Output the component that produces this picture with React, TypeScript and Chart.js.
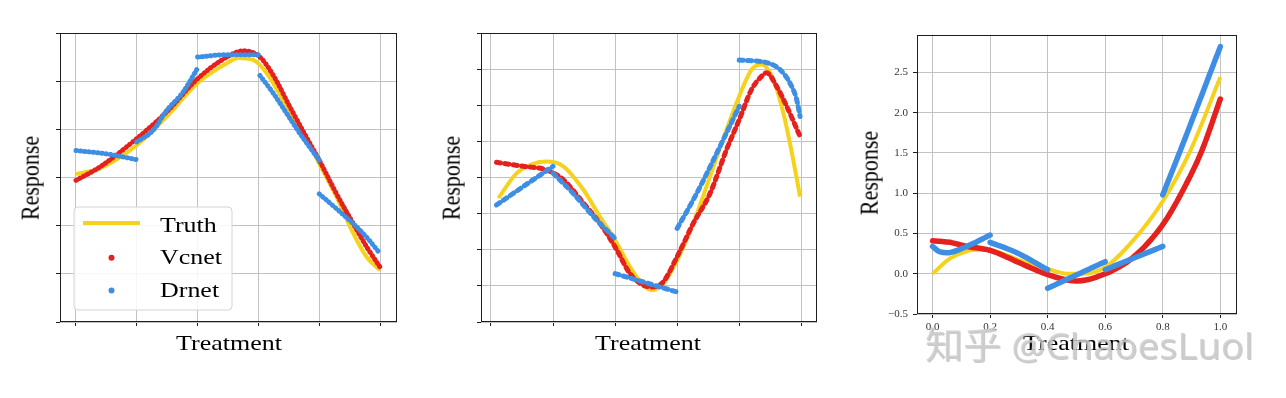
import React, { useEffect, useRef } from "react";
import { Chart, registerables } from "chart.js";
Chart.register(...registerables);

// ---------------- Panel 1 data ----------------
const p1TruthX = [0, 0.079, 0.2, 0.298, 0.4, 0.496, 0.534, 0.583, 0.627, 0.693, 0.748, 0.8, 0.857, 0.912, 0.956, 1.0];
const p1TruthY = [3.07, 3.19, 3.67, 4.26, 4.96, 5.37, 5.48, 5.44, 5.17, 4.47, 3.92, 3.29, 2.6, 1.84, 1.35, 1.07];
const p1VcnetX = [0, 0.079, 0.2, 0.298, 0.4, 0.496, 0.55, 0.605, 0.649, 0.704, 0.77, 0.8, 0.857, 0.912, 0.956, 1.0];
const p1VcnetY = [2.94, 3.22, 3.81, 4.36, 5.05, 5.5, 5.63, 5.5, 5.12, 4.46, 3.7, 3.36, 2.66, 2.04, 1.56, 1.14];
const p1DrnetX = [0, 0.1, 0.2, 0.2, 0.2, 0.254, 0.298, 0.353, 0.4, 0.4, 0.4, 0.496, 0.605, 0.605, 0.605, 0.65, 0.693, 0.737, 0.8, 0.8, 0.8, 0.857, 0.912, 0.956, 1.0];
const p1DrnetY = [3.56, 3.49, 3.37, null, 3.74, 3.98, 4.39, 4.78, 5.27, null, 5.5, 5.55, 5.55, null, 5.12, 4.74, 4.33, 3.91, 3.36, null, 2.66, 2.35, 2.04, 1.76, 1.42];
const p1XTicks = [0, 0.2, 0.4, 0.6, 0.8, 1.0];
const p1YTicks = [0, 1, 2, 3, 4, 5, 6];

// ---------------- Panel 2 data ----------------
const p2TruthX = [0.024, 0.083, 0.136, 0.179, 0.233, 0.298, 0.351, 0.4, 0.448, 0.491, 0.518, 0.555, 0.6, 0.652, 0.706, 0.759, 0.8, 0.84, 0.872, 0.91, 0.942, 0.974, 0.996];
const p2TruthY = [3.43, 4.12, 4.38, 4.44, 4.31, 3.66, 2.92, 2.27, 1.53, 1.02, 0.88, 1.06, 1.71, 2.73, 4.03, 5.32, 6.25, 6.99, 7.13, 6.71, 5.79, 4.49, 3.47];
const p2VcnetX = [0.018, 0.104, 0.179, 0.233, 0.298, 0.351, 0.4, 0.448, 0.491, 0.523, 0.555, 0.6, 0.652, 0.706, 0.759, 0.8, 0.84, 0.878, 0.888, 0.92, 0.953, 0.996];
const p2VcnetY = [4.42, 4.31, 4.21, 3.94, 3.29, 2.73, 2.08, 1.34, 1.02, 0.97, 1.11, 1.81, 2.73, 3.56, 4.77, 5.6, 6.44, 6.85, 6.9, 6.53, 5.97, 5.14];
const p2DrnetX = [0.018, 0.104, 0.2, 0.2, 0.2, 0.265, 0.33, 0.4, 0.4, 0.4, 0.6, 0.6, 0.6, 0.663, 0.738, 0.8, 0.8, 0.8, 0.888, 0.931, 0.963, 0.985, 0.996];
const p2DrnetY = [3.24, 3.75, 4.31, null, 4.12, 3.56, 2.92, 2.31, null, 1.34, 0.83, null, 2.59, 3.56, 4.86, 5.97, null, 7.25, 7.18, 6.99, 6.62, 6.16, 5.69];
const p2XTicks = [0, 0.2, 0.4, 0.6, 0.8, 1.0];
const p2YTicks = [0, 1, 2, 3, 4, 5, 6, 7, 8];

// ---------------- Panel 3 data ----------------
const p3TruthX = [0, 0.061, 0.119, 0.177, 0.235, 0.316, 0.4, 0.467, 0.525, 0.6, 0.699, 0.8, 0.896, 1.0];
const p3TruthY = [0, 0.19, 0.28, 0.3, 0.26, 0.15, 0.06, 0.0, 0.0, 0.08, 0.42, 0.9, 1.53, 2.44];
const p3VcnetX = [0, 0.061, 0.119, 0.2, 0.293, 0.4, 0.5, 0.6, 0.699, 0.8, 0.872, 0.936, 1.0];
const p3VcnetY = [0.41, 0.39, 0.34, 0.29, 0.15, -0.01, -0.09, 0.0, 0.21, 0.61, 1.05, 1.53, 2.17];
const p3DrnetX = [0, 0.021, 0.05, 0.119, 0.2, 0.2, 0.2, 0.293, 0.4, 0.4, 0.4, 0.6, 0.6, 0.6, 0.8, 0.8, 0.8, 0.861, 1.0];
const p3DrnetY = [0.34, 0.28, 0.26, 0.34, 0.48, null, 0.39, 0.26, 0.05, null, -0.18, 0.15, null, 0.05, 0.34, null, 0.98, 1.53, 2.82];
const p3XTicks = [0, 0.2, 0.4, 0.6, 0.8, 1.0];
const p3YTicks = [-0.5, 0, 0.5, 1.0, 1.5, 2.0, 2.5];

const legendLabels = ["Truth", "Vcnet", "Drnet"];

// ---------------- styles ----------------
const YELLOW = "#f6d21a";
const RED = "#e4211c";
const BLUE = "#3e8fe3";
const GRID = "#c2c2c2";
const SPINE = "#1e1e1e";
const SERIF = "'Liberation Serif', 'DejaVu Serif', serif";
const STRETCH = 1.18;

const PADL = 40, PADT = 10, PADR = 15, PADB = 25;

type Spec = {
  area: { l: number; t: number; r: number; b: number };
  xMin: number; xMax: number; yMin: number; yMax: number;
  xTicks: number[]; yTicks: number[];
  showLabels: boolean;
  truth: [number[], number[]];
  vcnet: [number[], number[]];
  drnet: [number[], (number | null)[]];
  dash: number[];
  dotW: number;
  legend?: boolean;
};

const pts = (xs: number[], ys: (number | null)[]) => xs.map((x, i) => ({ x, y: ys[i] }));

const framePlugin = {
  id: "frame",
  afterDatasetsDraw(chart: any) {
    const { ctx, chartArea: a } = chart;
    ctx.save();
    ctx.strokeStyle = SPINE;
    ctx.lineWidth = 1;
    ctx.strokeRect(Math.round(a.left) + 0.5, Math.round(a.top) + 0.5, Math.round(a.right - a.left) - 1, Math.round(a.bottom - a.top) - 1);
    ctx.restore();
  },
};

const legendPlugin = {
  id: "innerLegend",
  afterDatasetsDraw(chart: any, _args: any, opts: any) {
    if (!opts || !opts.show) return;
    const { ctx, chartArea: a } = chart;
    const L = a.left, T = a.top;
    ctx.save();
    const bx = L + 14, by = T + 174, bw = 158, bh = 103, r = 4;
    ctx.beginPath();
    ctx.moveTo(bx + r, by);
    ctx.lineTo(bx + bw - r, by);
    ctx.quadraticCurveTo(bx + bw, by, bx + bw, by + r);
    ctx.lineTo(bx + bw, by + bh - r);
    ctx.quadraticCurveTo(bx + bw, by + bh, bx + bw - r, by + bh);
    ctx.lineTo(bx + r, by + bh);
    ctx.quadraticCurveTo(bx, by + bh, bx, by + bh - r);
    ctx.lineTo(bx, by + r);
    ctx.quadraticCurveTo(bx, by, bx + r, by);
    ctx.closePath();
    ctx.fillStyle = "rgba(255,255,255,0.85)";
    ctx.fill();
    ctx.strokeStyle = "#d4d4d4";
    ctx.lineWidth = 1;
    ctx.stroke();
    ctx.strokeStyle = YELLOW;
    ctx.lineWidth = 4;
    ctx.lineCap = "butt";
    ctx.beginPath();
    ctx.moveTo(L + 23, T + 190);
    ctx.lineTo(L + 80, T + 190);
    ctx.stroke();
    ctx.fillStyle = RED;
    ctx.beginPath();
    ctx.arc(L + 51.5, T + 224.7, 3, 0, Math.PI * 2);
    ctx.fill();
    ctx.fillStyle = BLUE;
    ctx.beginPath();
    ctx.arc(L + 51.5, T + 257.5, 3, 0, Math.PI * 2);
    ctx.fill();
    ctx.fillStyle = "#000";
    ctx.font = `22px ${SERIF}`;
    ctx.textBaseline = "alphabetic";
    ctx.textAlign = "left";
    const ys = [198.5, 231, 263.5];
    legendLabels.forEach((t, i) => {
      ctx.save();
      ctx.translate(L + 100, T + ys[i]);
      ctx.scale(STRETCH, 1);
      ctx.fillText(t, 0, 0);
      ctx.restore();
    });
    ctx.restore();
  },
};

const fmt = (v: number) => v.toFixed(1).replace("-", "\u2212");

function Panel({ spec }: { spec: Spec }) {
  const ref = useRef<HTMLCanvasElement | null>(null);
  const aw = spec.area.r - spec.area.l;
  const ah = spec.area.b - spec.area.t;
  const w = aw + PADL + PADR;
  const h = ah + PADT + PADB;
  useEffect(() => {
    if (!ref.current) return;
    const lineBase = {
      pointRadius: 0,
      pointHoverRadius: 0,
      cubicInterpolationMode: "monotone" as const,
      spanGaps: false,
      fill: false,
    };
    const chart = new Chart(ref.current, {
      type: "line",
      data: {
        datasets: [
          {
            ...lineBase,
            label: "Drnet",
            data: pts(spec.drnet[0], spec.drnet[1]) as any,
            borderColor: BLUE,
            borderWidth: spec.dotW,
            borderDash: spec.dash,
            borderCapStyle: "round",
            borderJoinStyle: "round",
          },
          {
            ...lineBase,
            label: "Vcnet",
            data: pts(spec.vcnet[0], spec.vcnet[1]) as any,
            borderColor: RED,
            borderWidth: spec.dotW,
            borderDash: spec.dash,
            borderCapStyle: "round",
            borderJoinStyle: "round",
          },
          {
            ...lineBase,
            label: "Truth",
            data: pts(spec.truth[0], spec.truth[1]) as any,
            borderColor: YELLOW,
            borderWidth: 4,
            borderCapStyle: "butt",
            borderJoinStyle: "round",
          },
        ],
      },
      options: {
        animation: false,
        responsive: false,
        maintainAspectRatio: false,
        events: [],
        layout: { padding: { left: 0, top: PADT, right: PADR, bottom: 0 } },
        plugins: {
          legend: { display: false },
          tooltip: { enabled: false },
          innerLegend: { show: !!spec.legend },
        } as any,
        scales: {
          x: {
            type: "linear",
            min: spec.xMin,
            max: spec.xMax,
            afterBuildTicks: (s: any) => {
              s.ticks = spec.xTicks.map((v) => ({ value: v }));
            },
            afterFit: (s: any) => {
              s.height = PADB;
            },
            grid: { color: GRID, lineWidth: 1, drawTicks: true, tickLength: 4, tickColor: SPINE, tickWidth: 1 },
            border: { display: false },
            ticks: {
              display: spec.showLabels,
              autoSkip: false,
              maxRotation: 0,
              padding: 3,
              color: "#333",
              font: { family: SERIF, size: 11 },
              callback: (v: any) => fmt(Number(v)),
            },
          },
          y: {
            type: "linear",
            min: spec.yMin,
            max: spec.yMax,
            afterBuildTicks: (s: any) => {
              s.ticks = spec.yTicks.map((v) => ({ value: v }));
            },
            afterFit: (s: any) => {
              s.width = PADL;
            },
            grid: { color: GRID, lineWidth: 1, drawTicks: true, tickLength: 4, tickColor: SPINE, tickWidth: 1 },
            border: { display: false },
            ticks: {
              display: spec.showLabels,
              autoSkip: false,
              padding: 5,
              color: "#333",
              font: { family: SERIF, size: 11 },
              callback: (v: any) => fmt(Number(v)),
            },
          },
        },
      },
      plugins: [framePlugin, legendPlugin],
    } as any);
    return () => chart.destroy();
  }, []);
  return (
    <canvas
      ref={ref}
      width={w}
      height={h}
      style={{ position: "absolute", left: spec.area.l - PADL, top: spec.area.t - PADT, width: w, height: h }}
    />
  );
}

const specs: Spec[] = [
  {
    area: { l: 60, t: 33, r: 397, b: 322 },
    xMin: -0.0526, xMax: 1.0559, yMin: 0, yMax: 6,
    xTicks: p1XTicks, yTicks: p1YTicks, showLabels: false,
    truth: [p1TruthX, p1TruthY], vcnet: [p1VcnetX, p1VcnetY], drnet: [p1DrnetX, p1DrnetY],
    dash: [0.5, 3.8], dotW: 5, legend: true,
  },
  {
    area: { l: 481, t: 33, r: 817, b: 322 },
    xMin: -0.032, xMax: 1.0506, yMin: 0, yMax: 8,
    xTicks: p2XTicks, yTicks: p2YTicks, showLabels: false,
    truth: [p2TruthX, p2TruthY], vcnet: [p2VcnetX, p2VcnetY], drnet: [p2DrnetX, p2DrnetY],
    dash: [4, 4.5], dotW: 5,
  },
  {
    area: { l: 917, t: 33, r: 1237, b: 314 },
    xMin: -0.054, xMax: 1.058, yMin: -0.5, yMax: 2.97,
    xTicks: p3XTicks, yTicks: p3YTicks, showLabels: true,
    truth: [p3TruthX, p3TruthY], vcnet: [p3VcnetX, p3VcnetY], drnet: [p3DrnetX, p3DrnetY],
    dash: [8, 1.5], dotW: 5.5,
  },
];

const yTitlePos = [
  { x: 30, y: 177.5 },
  { x: 451, y: 177.5 },
  { x: 868.5, y: 173.3 },
];
const xTitlePos = [229, 648, 1076];

export default function App() {
  const labelStyle: React.CSSProperties = {
    position: "absolute",
    fontFamily: SERIF,
    fontSize: 22,
    lineHeight: "22px",
    color: "#000",
    whiteSpace: "nowrap",
  };
  return (
    <div style={{ position: "absolute", left: 0, top: 0, width: 1286, height: 398, background: "#fff", overflow: "hidden" }}>
      {specs.map((s, i) => (
        <Panel key={i} spec={s} />
      ))}
      {yTitlePos.map((p, i) => (
        <div key={"y" + i} style={{ position: "absolute", left: p.x, top: p.y, width: 0, height: 0 }}>
          <div style={{ ...labelStyle, left: 0, top: 0, transform: `translate(-50%, -50%) scaleX(${STRETCH}) rotate(-90deg)` }}>Response</div>
        </div>
      ))}
      {xTitlePos.map((x, i) => (
        <div key={"x" + i} style={{ position: "absolute", left: x, top: 332, width: 0, height: 0 }}>
          <div style={{ ...labelStyle, left: 0, top: 0, transform: `translateX(-50%) scaleX(${STRETCH})` }}>Treatment</div>
        </div>
      ))}
      <div
        style={{
          position: "absolute",
          left: 925,
          top: 326,
          fontFamily: "'Noto Sans', 'Noto Sans CJK SC', sans-serif",
          fontSize: 37,
          lineHeight: "37px",
          color: "rgba(205,205,205,0.8)",
          textShadow: "1px 1px 0 rgba(140,140,140,0.45)",
          whiteSpace: "nowrap",
          transform: "scaleX(1.03)",
          transformOrigin: "left top",
        }}
      >
        知乎 @ChaoesLuol
      </div>
    </div>
  );
}
